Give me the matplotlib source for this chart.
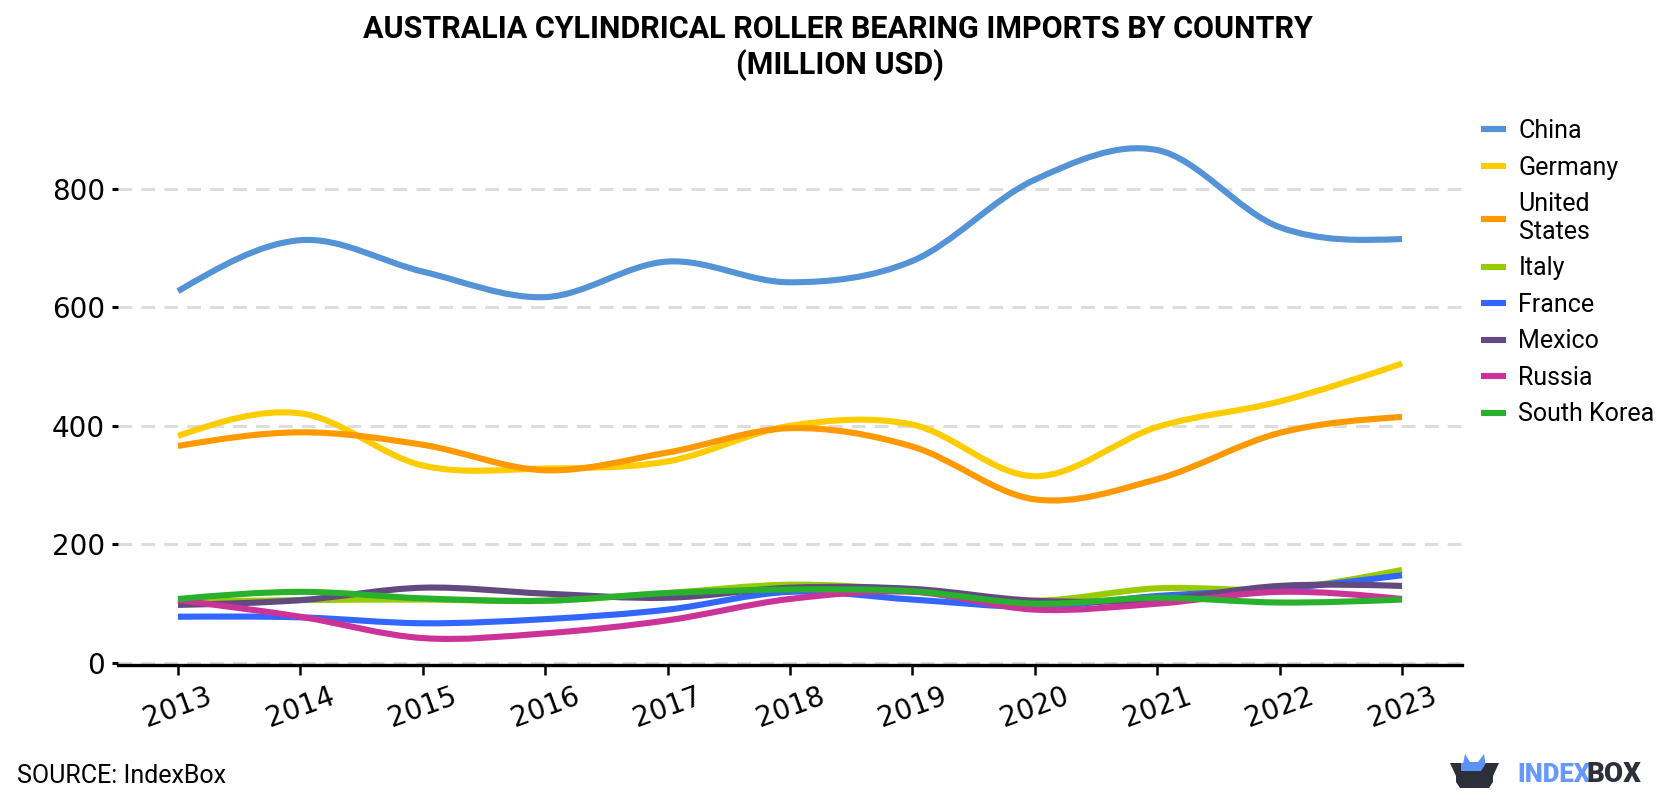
import numpy as np
import matplotlib
matplotlib.use("Agg")
import matplotlib.pyplot as plt
from matplotlib.path import Path
from matplotlib.patches import PathPatch, Polygon
from matplotlib.lines import Line2D

plt.rcParams['font.family'] = ['Roboto', 'DejaVu Sans']

years = [2013, 2014, 2015, 2016, 2017, 2018, 2019, 2020, 2021, 2022, 2023]

china = [627, 713, 660, 617, 677, 642, 678, 815, 865, 735, 715]
germany = [383, 421, 333, 328, 340, 400, 402, 315, 398, 441, 505]
united_states = [366, 389, 368, 325, 355, 396, 365, 276, 310, 388, 415]
italy = [103, 106, 107, 105, 118, 132, 123, 105, 126, 125, 157]
france = [78, 77, 67, 74, 90, 120, 107, 95, 113, 125, 148]
mexico = [98, 106, 127, 117, 110, 127, 125, 105, 107, 130, 130]
russia = [106, 78, 42, 50, 72, 108, 120, 90, 100, 120, 108]
south_korea = [108, 120, 109, 105, 118, 124, 121, 100, 110, 102, 107]

names = ['China', 'Germany', 'United\nStates', 'Italy', 'France', 'Mexico', 'Russia', 'South Korea']
series = [china, germany, united_states, italy, france, mexico, russia, south_korea]
colors = ['#5593d7', '#ffcc00', '#ff9900', '#99cc00', '#3366ff', '#624a80', '#cc3399', '#29b12e']

W, H = 1680, 800


def smooth_path(xs, ys):
    """Bezier path through the yearly points: central-difference tangents, free ends"""
    xs = np.array(xs, dtype=float)
    ys = np.array(ys, dtype=float)
    dy = np.gradient(ys, xs)
    dy[0] = (3 * (ys[1] - ys[0]) - dy[1]) / 2
    dy[-1] = (3 * (ys[-1] - ys[-2]) - dy[-2]) / 2
    verts = [(xs[0], ys[0])]
    codes = [Path.MOVETO]
    for i in range(len(xs) - 1):
        h = (xs[i + 1] - xs[i]) / 3
        verts.append((xs[i] + h, ys[i] + dy[i] * h))
        verts.append((xs[i + 1] - h, ys[i + 1] - dy[i + 1] * h))
        verts.append((xs[i + 1], ys[i + 1]))
        codes += [Path.CURVE4, Path.CURVE4, Path.CURVE4]
    return Path(verts, codes)


fig = plt.figure(figsize=(W / 100, H / 100), dpi=100)
ax = fig.add_axes([118 / W, 1 - 664.5 / H, (1462 - 118) / W, (664.5 - 100) / H])

px_year = (1402.5 - 178) / 10
ax.set_xlim(2013 - 60 / px_year, 2023 + 60 / px_year)
px_val = (663 - 188.6) / 800
ax.set_ylim(-1.5 / px_val, (663 - 100) / px_val)

ax.set_yticks([0, 200, 400, 600, 800])
ax.set_xticks(years)
ax.set_xticklabels([str(y) for y in years], rotation=20, fontfamily='DejaVu Sans')
ax.set_yticklabels(['0', '200', '400', '600', '800'], fontfamily='DejaVu Sans')
ax.tick_params(axis='y', labelsize=20, length=4.5, width=2.2, color='black', pad=5)
ax.tick_params(axis='x', labelsize=20, length=7, width=1.8, color='black', pad=6)
ax.grid(axis='y', color='#dddddd', lw=2.2, linestyle=(0, (4.5, 3)))
ax.set_axisbelow(True)
for side in ['top', 'right', 'left']:
    ax.spines[side].set_visible(False)
ax.spines['bottom'].set_linewidth(2.4)

for vals, col in zip(series, colors):
    ax.add_patch(PathPatch(smooth_path(years, vals), fill=False, edgecolor=col,
                           lw=4.4, capstyle='butt', joinstyle='round'))

handles = [Line2D([0], [0], color=c, lw=4.4, solid_capstyle='butt') for c in colors]
leg = fig.legend(handles, names, loc='upper left', bbox_to_anchor=(1481 / W, 1 - 119 / H),
                 bbox_transform=fig.transFigure, frameon=False, fontsize=18, handlelength=0.98,
                 handletextpad=0.52, labelspacing=0.5, borderpad=0, borderaxespad=0)
for t in leg.get_texts():
    t.set_linespacing(1.2)

fig.text(838 / W, 1 - 29 / H, 'AUSTRALIA CYLINDRICAL ROLLER BEARING IMPORTS BY COUNTRY',
         ha='center', va='center', fontsize=22, fontweight='bold')
fig.text(840 / W, 1 - 65 / H, '(MILLION USD)', ha='center', va='center', fontsize=22, fontweight='bold')
fig.text(17 / W, 1 - 776 / H, 'SOURCE: IndexBox', ha='left', va='center', fontsize=18)

# logo in the lower right corner, in pixel coordinates
logo = fig.add_axes([0, 0, 1, 1], facecolor='none')
logo.set_xlim(0, W)
logo.set_ylim(H, 0)
logo.axis('off')
logo.add_patch(Polygon([(1461, 774), (1465, 754), (1470, 762), (1478, 762), (1484, 754), (1487, 774)],
                       closed=True, color='#5b93f7', lw=0))
logo.add_patch(Polygon([(1450, 763), (1499, 763), (1493, 776), (1493, 782), (1489, 788), (1460, 788),
                        (1456, 782), (1456, 776)], closed=True, color='#2d2f3a', lw=0))
logo.add_patch(Polygon([(1461, 763), (1486, 763), (1481, 771), (1461, 771)], closed=True,
                       color='#5b93f7', lw=0))
logo.text(1517, 775, 'INDEX', ha='left', va='center', fontsize=18.5, fontweight='black',
          color='#6699ff', family='Roboto')
logo.text(1587, 775, 'BOX', ha='left', va='center', fontsize=20, fontweight='black',
          color='#2d2f3a', family='Roboto')

fig.savefig('out.png', dpi=100)
